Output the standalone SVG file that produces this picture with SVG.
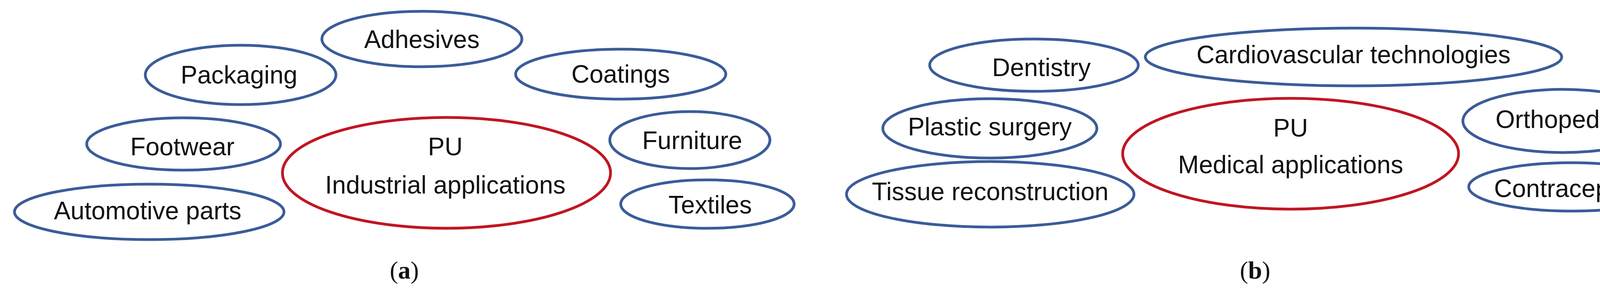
<svg xmlns="http://www.w3.org/2000/svg" width="4329" height="774" viewBox="0 0 4329 774">
<style>
.b{fill:none;stroke:#3B5C99;stroke-width:7}
.r{fill:none;stroke:#C01622;stroke-width:7}
text{font-family:"Liberation Sans",Arial,sans-serif;font-size:64px;fill:#111;text-anchor:middle}
.cap{font-family:"Liberation Serif",serif;font-size:64px}
</style>
<rect width="4329" height="774" fill="#fff"/>
<g id="connectors"/>
<g id="adhesives"><ellipse class="b" cx="1080" cy="100" rx="256" ry="71"/><text x="1080" y="123">Adhesives</text></g>
<g id="packaging"><ellipse class="b" cx="616" cy="192" rx="244" ry="76"/><text x="612" y="214">Packaging</text></g>
<g id="coatings"><ellipse class="b" cx="1589" cy="190" rx="269" ry="64"/><text x="1589" y="212">Coatings</text></g>
<g id="footwear"><ellipse class="b" cx="470" cy="369" rx="248" ry="67"/><text x="467" y="398">Footwear</text></g>
<g id="pu-industrial"><ellipse class="r" cx="1143" cy="443" rx="420" ry="142"/><text x="1140" y="398">PU</text><text x="1140" y="496">Industrial applications</text></g>
<g id="furniture"><ellipse class="b" cx="1766" cy="359" rx="205" ry="73"/><text x="1772" y="382">Furniture</text></g>
<g id="automotive"><ellipse class="b" cx="382" cy="543" rx="345" ry="71"/><text x="378" y="562">Automotive parts</text></g>
<g id="textiles"><ellipse class="b" cx="1811" cy="523" rx="222" ry="62"/><text x="1818" y="547">Textiles</text></g>
<text class="cap" x="1035" y="714">(<tspan font-weight="bold">a</tspan>)</text>
<g id="dentistry"><ellipse class="b" cx="2647" cy="167" rx="267" ry="67"/><text x="2666" y="195">Dentistry</text></g>
<g id="cardio"><ellipse class="b" cx="3465" cy="146" rx="533" ry="74"/><text x="3465" y="162">Cardiovascular technologies</text></g>
<g id="plastic"><ellipse class="b" cx="2534" cy="329" rx="274" ry="76"/><text x="2534" y="347">Plastic surgery</text></g>
<g id="pu-medical"><ellipse class="r" cx="3304" cy="394" rx="430" ry="142"/><text x="3304" y="350">PU</text><text x="3304" y="444">Medical applications</text></g>
<g id="orthopedics"><ellipse class="b" cx="4001" cy="310" rx="256" ry="81"/><text x="4001" y="328">Orthopedics</text></g>
<g id="tissue"><ellipse class="b" cx="2535" cy="498" rx="368" ry="84"/><text x="2535" y="513">Tissue reconstruction</text></g>
<g id="contraception"><ellipse class="b" cx="4024" cy="479" rx="264" ry="62"/><text x="4024" y="505">Contraception</text></g>
<text class="cap" x="3213" y="714">(<tspan font-weight="bold">b</tspan>)</text>
</svg>
